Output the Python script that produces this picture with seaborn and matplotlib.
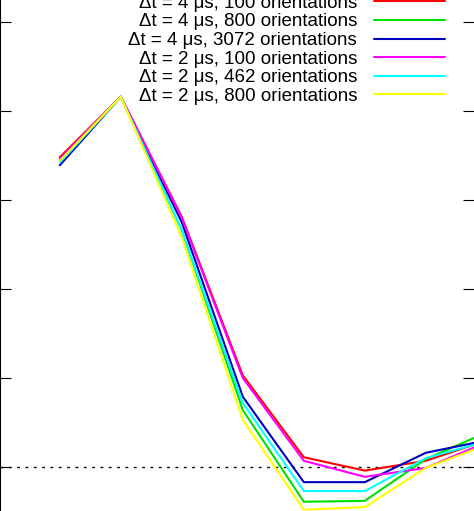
import matplotlib
matplotlib.use("Agg")
import matplotlib.pyplot as plt
import seaborn as sns
import pandas as pd

x = [1, 2, 3, 4, 5, 6, 7, 8]
labels = ["Δt = 4 μs, 100 orientations", "Δt = 4 μs, 800 orientations",
          "Δt = 4 μs, 3072 orientations", "Δt = 2 μs, 100 orientations",
          "Δt = 2 μs, 462 orientations", "Δt = 2 μs, 800 orientations"]
colors = ["#ff0000", "#00e000", "#0000c0", "#ff00ff", "#00ffff", "#ffff00"]
s_red     = [3.48, 4.16, 2.81, 1.03, 0.11, -0.04, 0.07, 0.30]
s_green   = [3.44, 4.16, 2.66, 0.64, -0.39, -0.38, 0.09, 0.39]
s_blue    = [3.39, 4.16, 2.75, 0.79, -0.17, -0.17, 0.16, 0.30]
s_magenta = [3.46, 4.16, 2.80, 1.00, 0.07, -0.11, -0.01, 0.28]
s_cyan    = [3.42, 4.16, 2.66, 0.72, -0.27, -0.27, 0.10, 0.29]
s_yellow  = [3.44, 4.16, 2.58, 0.53, -0.48, -0.45, -0.01, 0.25]
series = [s_red, s_green, s_blue, s_magenta, s_cyan, s_yellow]

rows = []
for lab, vals in zip(labels, series):
    for xi, v in zip(x, vals):
        rows.append({"x": xi, "y": v, "s": lab})
df = pd.DataFrame(rows)

sns.set_style("white")
plt.rcParams['font.family'] = ['Liberation Sans', 'DejaVu Sans']
fig = plt.figure(figsize=(4.74, 5.11), dpi=100)
ax = fig.add_axes([0, 0, 1, 1])
ax.axhline(0, color="black", ls=(0, (2, 4)), lw=1)
sns.lineplot(data=df, x="x", y="y", hue="s", palette=colors, hue_order=labels,
             lw=1.5, ax=ax, legend=True, sort=False)
ax.set_xlim(0.02, 7.79)
ax.set_ylim(-0.494, 5.247)
ax.set_yticks([0, 1, 2, 3, 4, 5])
ax.set_xticks([])
ax.set_yticklabels([])
ax.tick_params(axis="y", direction="in", length=8, left=True, right=True, color="black")
for sp in ["top", "bottom", "right"]:
    ax.spines[sp].set_visible(False)
ax.spines["left"].set_color("black")
ax.set_xlabel("")
ax.set_ylabel("")
h, l = ax.get_legend_handles_labels()
leg = ax.legend(h, l, loc="upper right", bbox_to_anchor=(0.955, 1.025), frameon=False,
                markerfirst=False, fontsize=13.5, handlelength=3.8, labelspacing=0.08,
                borderaxespad=0, handletextpad=0.9)
for t in leg.get_texts():
    t.set_color("black")
fig.savefig("out.png", dpi=100)
